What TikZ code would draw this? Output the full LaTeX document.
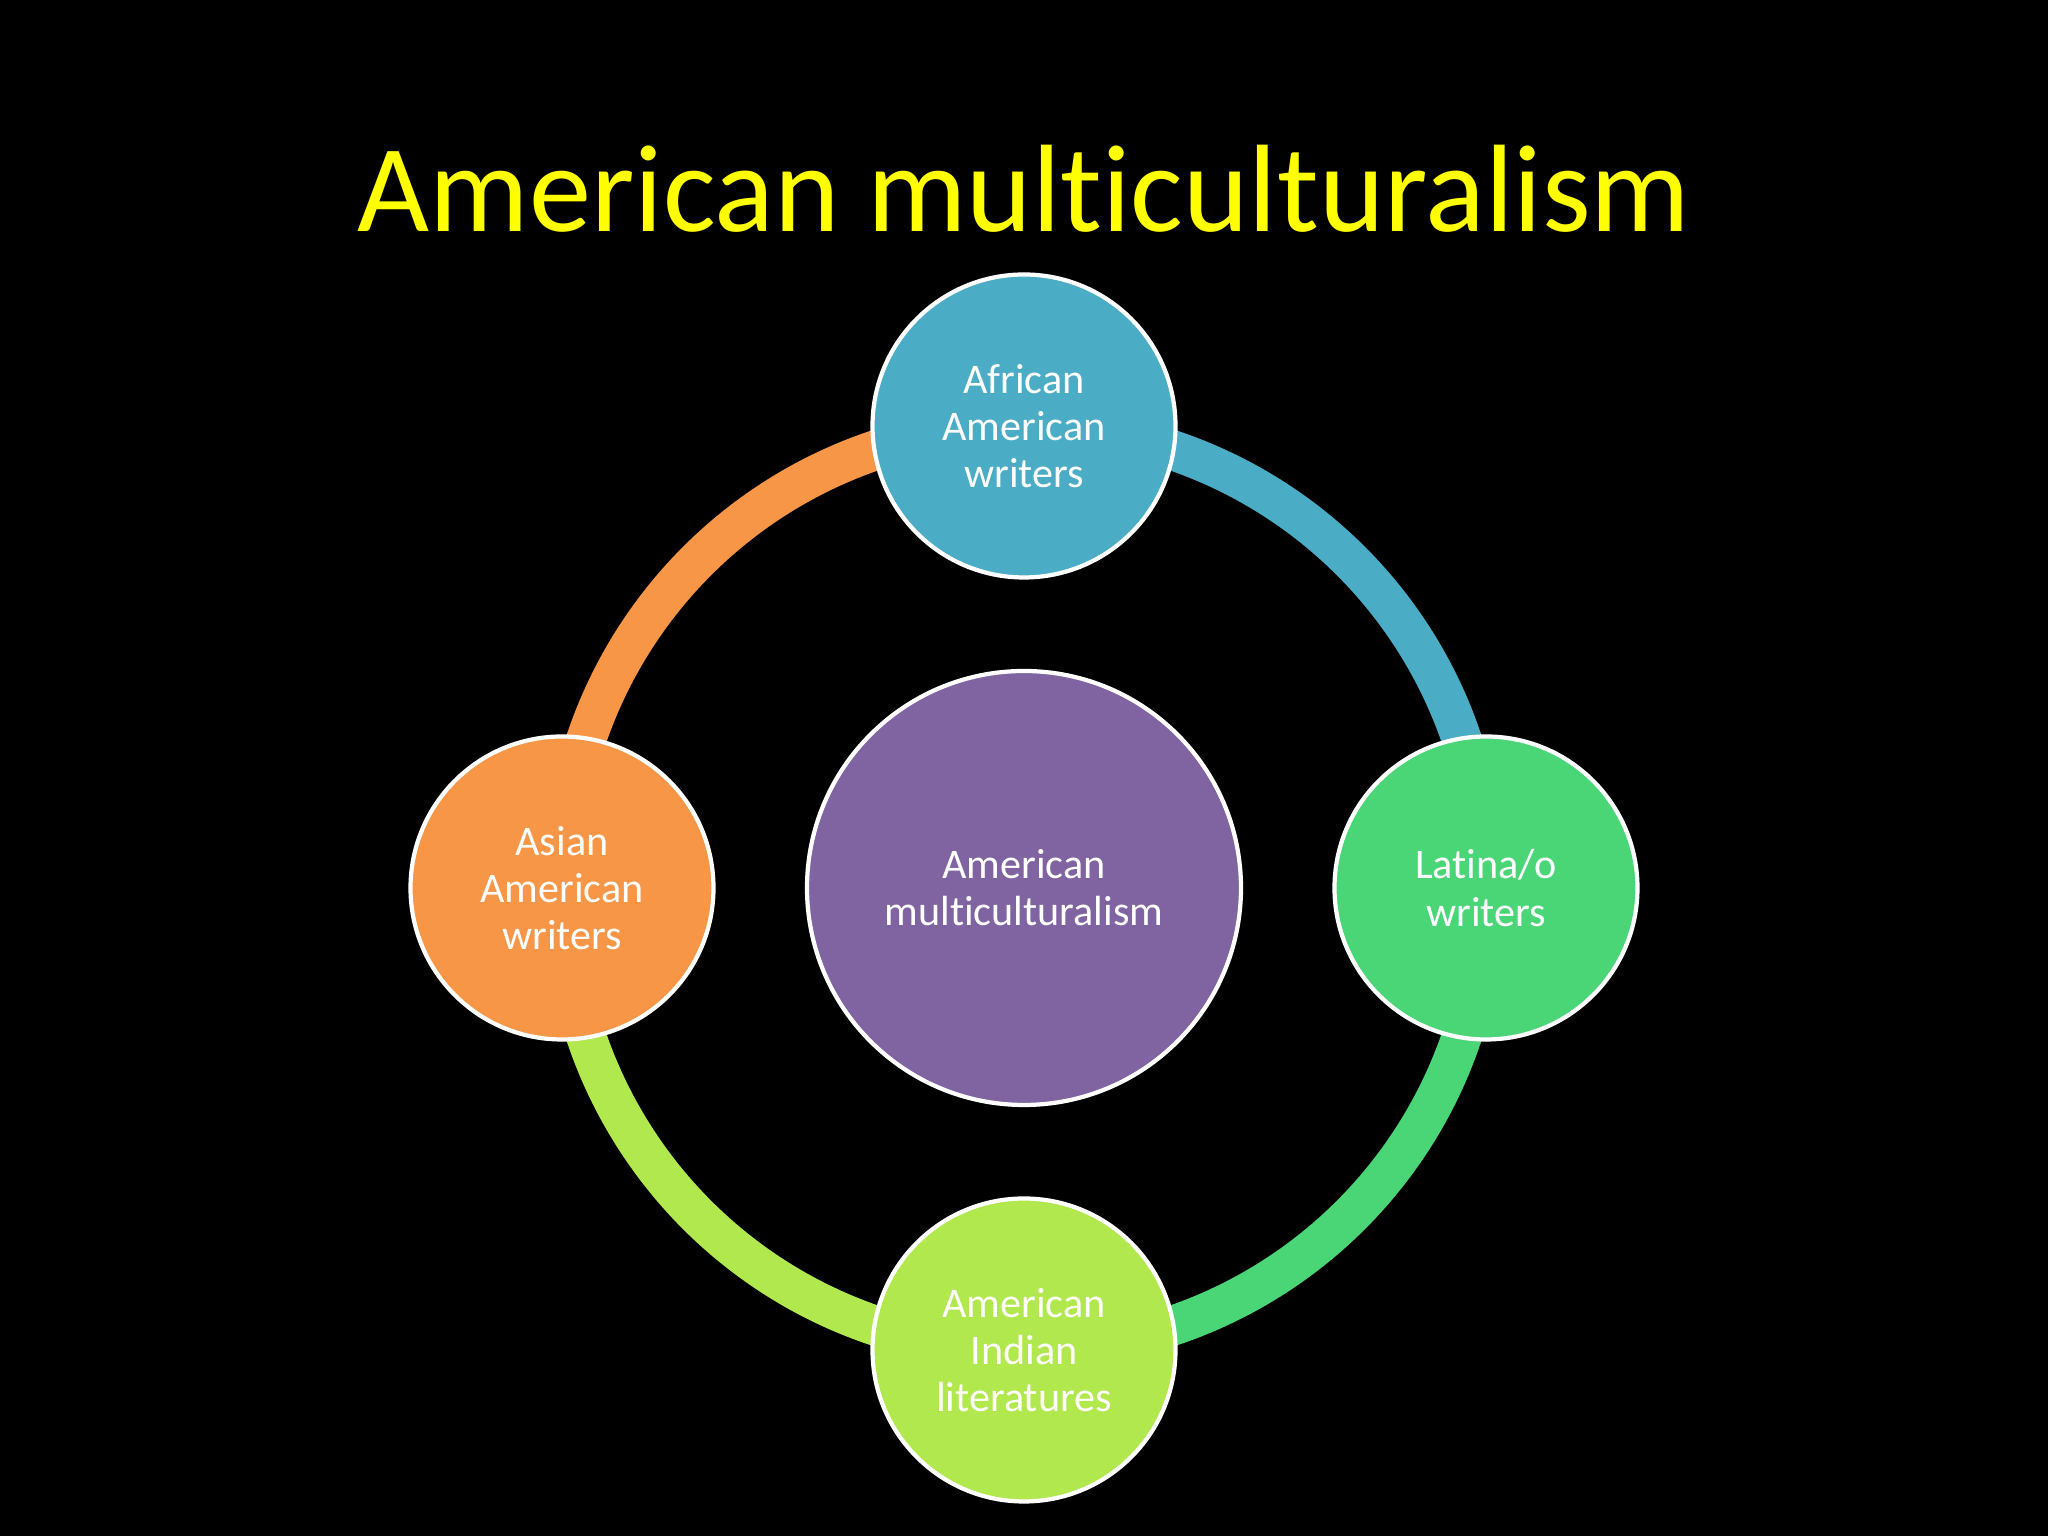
\documentclass[tikz,border=0pt]{standalone}
\usepackage{fontspec}
\setmainfont{Carlito}[Ligatures=NoCommon]
\usepackage{xcolor}

\definecolor{titleyellow}{HTML}{FFFF00}
\definecolor{hubpurple}{HTML}{8064A2}
\definecolor{africanblue}{HTML}{4BACC6}
\definecolor{latinogreen}{HTML}{4AD676}
\definecolor{indianlime}{HTML}{B0E84E}
\definecolor{asianorange}{HTML}{F79646}

\pgfdeclarelayer{back}
\pgfdeclarelayer{ring}
\pgfsetlayers{back,ring,main}

\begin{document}
\begin{tikzpicture}[
  every node/.style={text=white, align=center, font=\fontsize{12}{13.4}\selectfont},
  bubble/.style={circle, draw=white, line width=1.2pt, inner sep=0pt, minimum size=3.03cm},
  hub/.style={bubble, minimum size=4.34cm},
  link/.style={line width=0.4cm}
]
  % Slide background
  \begin{pgfonlayer}{back}
    \fill[black] (0,0) rectangle (20.48,15.36);
  \end{pgfonlayer}
  \useasboundingbox (0,0) rectangle (20.48,15.36);

  % Title
  \node[text=titleyellow, font=\fontsize{35.4}{40}\selectfont, anchor=base]
    (title) at (10.24,13.04) {American multiculturalism};

  % Hub
  \node[hub, fill=hubpurple] (hub) at (10.24,6.48) {American\\multiculturalism};

  % Outer circles
  \node[bubble, fill=africanblue] (african) at (10.24,11.10) {African\\American\\writers};
  \node[bubble, fill=latinogreen] (latino) at (14.86,6.48) {Latina/o\\writers};
  \node[bubble, fill=indianlime] (indian) at (10.24,1.86) {American\\Indian\\literatures};
  \node[bubble, fill=asianorange] (asian) at (5.62,6.48) {Asian\\American\\writers};

  % Ring
  \begin{pgfonlayer}{ring}
    \draw[link, draw=africanblue] (african.center) to[out=0, in=90] (latino.center);
    \draw[link, draw=latinogreen] (latino.center) to[out=-90, in=0] (indian.center);
    \draw[link, draw=indianlime] (indian.center) to[out=180, in=-90] (asian.center);
    \draw[link, draw=asianorange] (asian.center) to[out=90, in=180] (african.center);
  \end{pgfonlayer}
\end{tikzpicture}
\end{document}
